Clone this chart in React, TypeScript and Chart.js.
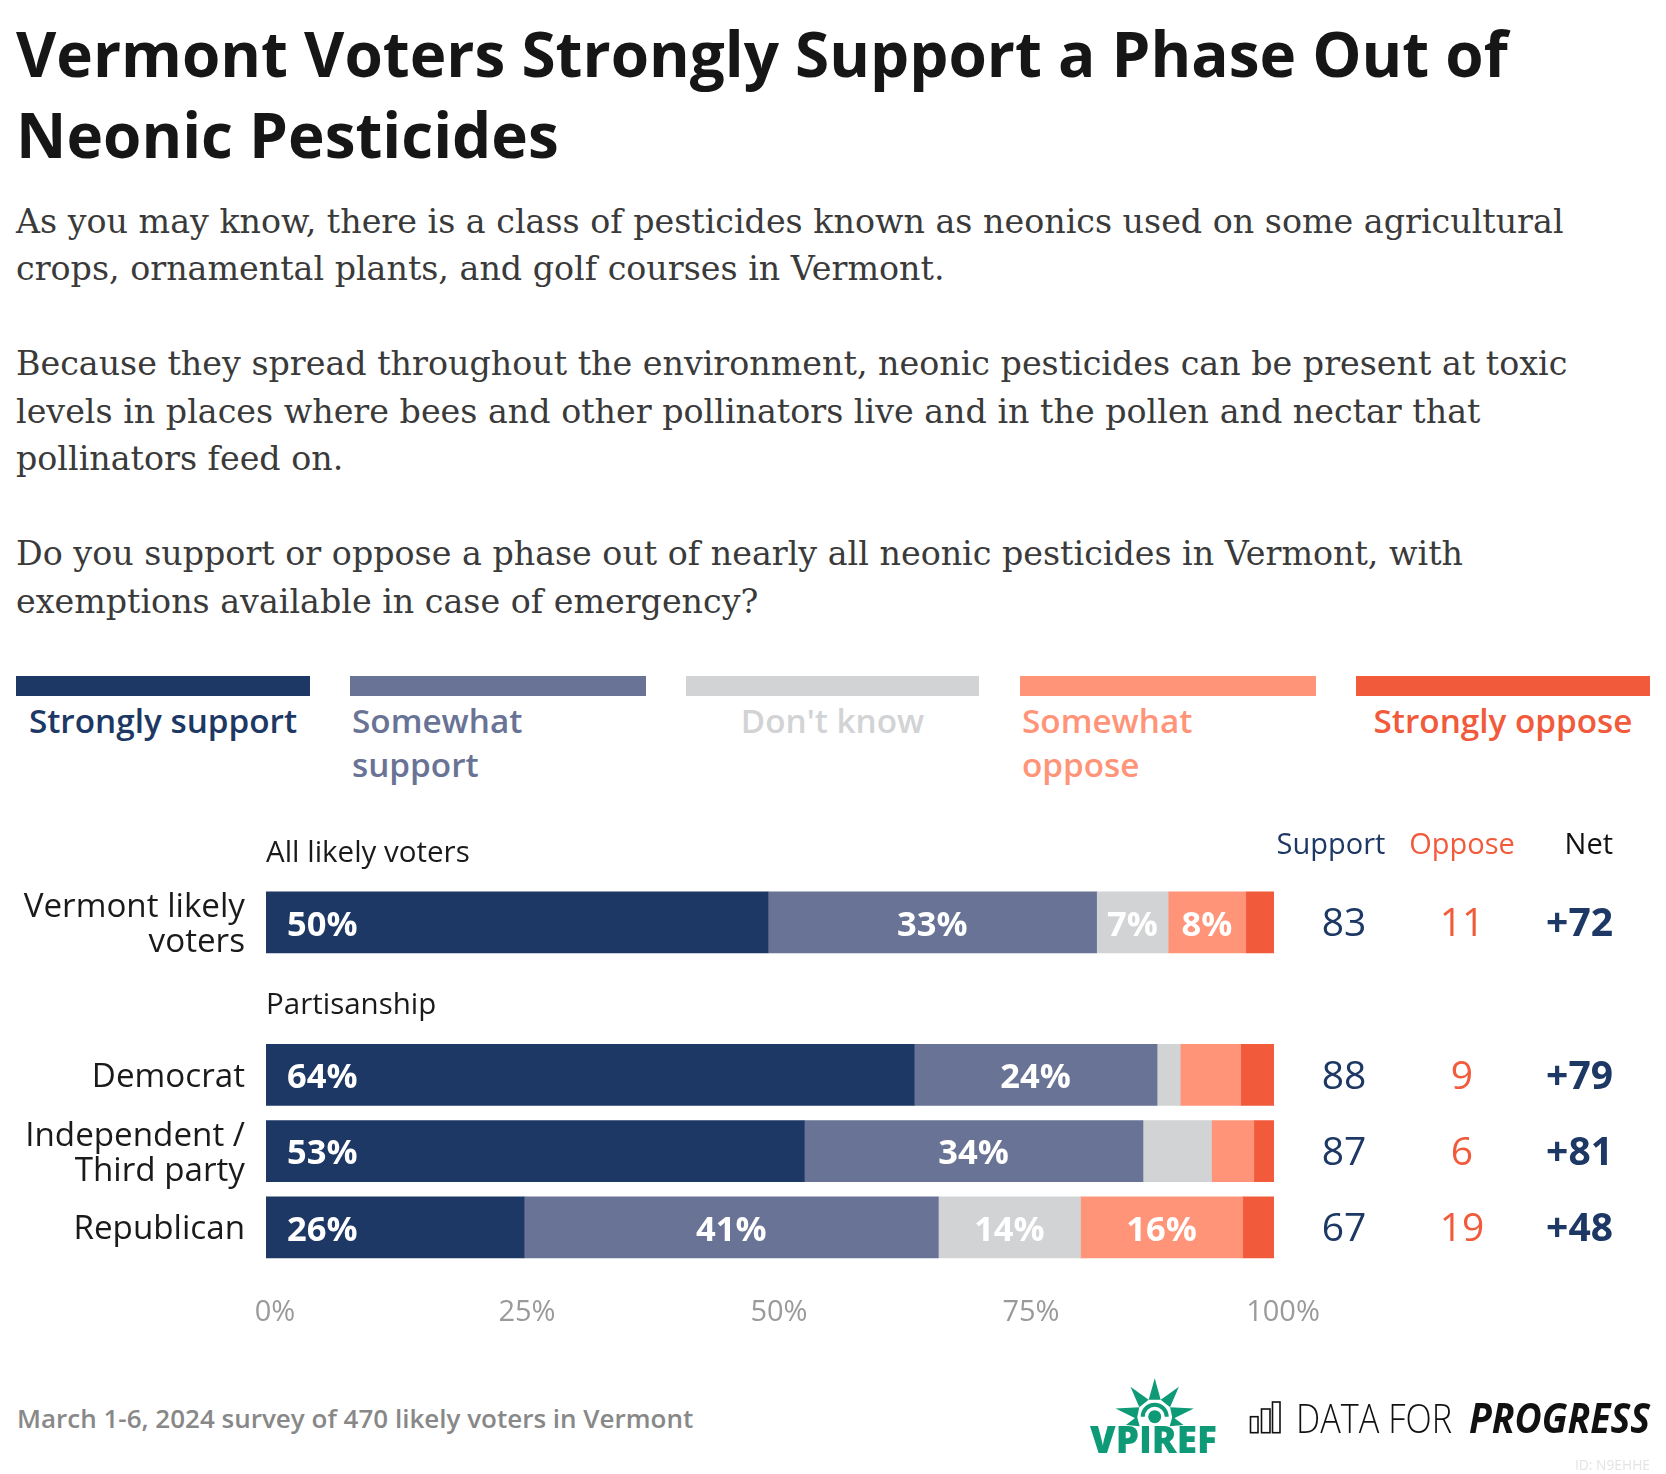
import React, { useEffect, useRef } from "react";
import { Chart, registerables } from "chart.js";

Chart.register(...registerables);

// ---------------- DATA ----------------
const titleLines = ["Vermont Voters Strongly Support a Phase Out of", "Neonic Pesticides"];
const subtitleLines = [
  "As you may know, there is a class of pesticides known as neonics used on some agricultural",
  "crops, ornamental plants, and golf courses in Vermont.",
  "",
  "Because they spread throughout the environment, neonic pesticides can be present at toxic",
  "levels in places where bees and other pollinators live and in the pollen and nectar that",
  "pollinators feed on.",
  "",
  "Do you support or oppose a phase out of nearly all neonic pesticides in Vermont, with",
  "exemptions available in case of emergency?",
];
const seriesNames = ["Strongly support", "Somewhat support", "Don't know", "Somewhat oppose", "Strongly oppose"];
const legendLines = [["Strongly support"], ["Somewhat", "support"], ["Don't know"], ["Somewhat", "oppose"], ["Strongly oppose"]];

const groupTitles = ["All likely voters", "Partisanship"];
const categories = [["Vermont likely", "voters"], ["Democrat"], ["Independent /", "Third party"], ["Republican"]];
const categoryGroup = [0, 1, 1, 1];

const stronglySupport = [49.8, 64.3, 53.4, 25.6];
const somewhatSupport = [32.6, 24.1, 33.6, 41.1];
const dontKnow = [7.1, 2.3, 6.8, 14.1];
const somewhatOppose = [7.7, 6.0, 4.2, 16.1];
const stronglyOppose = [2.8, 3.3, 2.0, 3.1];

const supportTotals = [83, 88, 87, 67];
const opposeTotals = [11, 9, 6, 19];
const netValues = [72, 79, 81, 48];
const columnHeaders = ["Support", "Oppose", "Net"];

const xTicks = [0, 25, 50, 75, 100];
const footnote = "March 1-6, 2024 survey of 470 likely voters in Vermont";

// ---------------- STYLE ----------------
const COLORS = ["#1d3864", "#697395", "#d2d3d5", "#ff9479", "#f15a3b"];
const SANS = '"Open Sans", "Noto Sans", sans-serif';
const SERIF = '"DejaVu Serif", serif';
const LABEL_MIN = 7;

// build the chart rows: a spacer row between groups
const rowOfCategory: number[] = [];
const chartLabels: string[] = [];
categories.forEach((c, i) => {
  if (i > 0 && categoryGroup[i] !== categoryGroup[i - 1]) chartLabels.push("");
  rowOfCategory.push(chartLabels.length);
  chartLabels.push(c.join(" "));
});
const seriesValues = [stronglySupport, somewhatSupport, dontKnow, somewhatOppose, stronglyOppose];
const toRows = (arr: number[]) => {
  const out: (number | null)[] = chartLabels.map(() => null);
  arr.forEach((v, i) => (out[rowOfCategory[i]] = v));
  return out;
};

const CANVAS_TOP = 780;

const overlayPlugin = {
  id: "overlay",
  afterDatasetsDraw(chart: any) {
    const ctx = chart.ctx as CanvasRenderingContext2D;
    const yScale = chart.scales.y;
    const area = chart.chartArea;
    ctx.save();
    ctx.textBaseline = "alphabetic";

    // segment labels
    const segF = 34.5;
    chart.data.datasets.forEach((ds: any, di: number) => {
      const meta = chart.getDatasetMeta(di);
      meta.data.forEach((bar: any, j: number) => {
        const v = ds.data[j];
        if (v == null || v < LABEL_MIN) return;
        const p = bar.getProps(["x", "base", "y"], true);
        const txt = Math.round(v) + "%";
        ctx.font = `700 ${segF}px ${SANS}`;
        ctx.fillStyle = "#ffffff";
        const by = p.y + 1 + 0.357 * segF;
        if (di === 0) {
          ctx.textAlign = "left";
          ctx.fillText(txt, Math.min(p.base, p.x) + 21, by);
        } else {
          ctx.textAlign = "center";
          ctx.fillText(txt, (p.base + p.x) / 2, by);
        }
      });
    });

    // row labels
    const rowF = 33.2;
    ctx.fillStyle = "#1a1a1a";
    ctx.font = `400 ${rowF}px ${SANS}`;
    ctx.textAlign = "right";
    categories.forEach((lines, k) => {
      const cy = yScale.getPixelForValue(rowOfCategory[k]);
      lines.forEach((ln, li) => {
        const ly = cy + (li - (lines.length - 1) / 2) * 35;
        ctx.fillText(ln, area.left - 21, ly + 0.357 * rowF);
      });
    });

    // group titles
    const gF = 29.5;
    ctx.font = `400 ${gF}px ${SANS}`;
    ctx.textAlign = "left";
    groupTitles.forEach((t, g) => {
      const first = categoryGroup.indexOf(g);
      const cy = yScale.getPixelForValue(rowOfCategory[first]) - 71;
      ctx.fillText(t, area.left, cy + 0.357 * gF);
    });

    // column headers
    ctx.font = `400 29px ${SANS}`;
    const hy = yScale.getPixelForValue(rowOfCategory[0]) - 78.5 + 0.357 * 29;
    ctx.fillStyle = COLORS[0];
    ctx.textAlign = "center";
    ctx.fillText(columnHeaders[0], area.right + 57, hy);
    ctx.fillStyle = COLORS[4];
    ctx.fillText(columnHeaders[1], area.right + 188, hy);
    ctx.fillStyle = "#111111";
    ctx.textAlign = "right";
    ctx.fillText(columnHeaders[2], area.right + 339, hy);

    // column values
    categories.forEach((_, k) => {
      const cy = yScale.getPixelForValue(rowOfCategory[k]) + 0.357 * 39;
      ctx.font = `400 39px ${SANS}`;
      ctx.textAlign = "center";
      ctx.fillStyle = COLORS[0];
      ctx.fillText(String(supportTotals[k]), area.right + 70, cy);
      ctx.fillStyle = COLORS[4];
      ctx.fillText(String(opposeTotals[k]), area.right + 188, cy);
      ctx.font = `700 39px ${SANS}`;
      ctx.textAlign = "right";
      ctx.fillStyle = COLORS[0];
      const n = netValues[k];
      ctx.fillText((n > 0 ? "+" : "") + n, area.right + 339, cy);
    });
    ctx.restore();
  },
};

function Logos() {
  const C = { x: 1154.7, y: 1416.7 };
  const rays = [
    { a: -90, d: 38.5, w: 6 },
    { a: -129, d: 38.5, w: 6 },
    { a: -51, d: 38.5, w: 6 },
    { a: -168, d: 40, w: 6 },
    { a: -12, d: 40, w: 6 },
    { a: 164, d: 30, w: 5 },
    { a: 16, d: 30, w: 5 },
  ];
  const r0 = 17;
  const polys = rays.map((r) => {
    const t = (r.a * Math.PI) / 180;
    const cx = Math.cos(t), sy = Math.sin(t);
    const tip = [C.x + r.d * cx, C.y + r.d * sy];
    const b = [C.x + r0 * cx, C.y + r0 * sy];
    const p1 = [b[0] - r.w * sy, b[1] + r.w * cx];
    const p2 = [b[0] + r.w * sy, b[1] - r.w * cx];
    return `${tip[0]},${tip[1]} ${p1[0]},${p1[1]} ${p2[0]},${p2[1]}`;
  });
  const green = "#0e9a77";
  return (
    <svg
      style={{ position: "absolute", left: 0, top: 1370 }}
      width={1666}
      height={104}
      viewBox="0 1370 1666 104"
    >
      {polys.map((p, i) => (
        <polygon key={i} points={p} fill={green} />
      ))}
      <path d={`M ${C.x - 12} ${C.y} A 12 12 0 0 1 ${C.x + 12} ${C.y}`} stroke={green} strokeWidth={4} fill="none" />
      <circle cx={C.x} cy={C.y} r={6.5} fill={green} />
      <text x={1090} y={1453} fill={green} fontFamily={SANS} fontWeight={800} fontSize={37} textLength={127} lengthAdjust="spacingAndGlyphs">
        VPIREF
      </text>
      <rect x={1250.5} y={1416.7} width={7.5} height={16} fill="none" stroke="#111" strokeWidth={1.6} />
      <rect x={1261.5} y={1409} width={8.5} height={23.7} fill="none" stroke="#111" strokeWidth={1.6} />
      <rect x={1272.5} y={1402} width={7.5} height={30.7} fill="none" stroke="#111" strokeWidth={1.6} />
      <text x={1296} y={1433} fill="#111" fontFamily={SANS} fontWeight={300} fontSize={41} textLength={156} lengthAdjust="spacingAndGlyphs">
        DATA FOR
      </text>
      <text x={1469} y={1433} fill="#111" fontFamily={SANS} fontWeight={700} fontStyle="italic" fontSize={41} textLength={181} lengthAdjust="spacingAndGlyphs">
        PROGRESS
      </text>
      <text x={1575} y={1470} fill="#e4e4e4" fontFamily={SANS} fontSize={15} textLength={75} lengthAdjust="spacingAndGlyphs">
        ID: N9EHHE
      </text>
    </svg>
  );
}

export default function App() {
  const ref = useRef<HTMLCanvasElement | null>(null);

  useEffect(() => {
    if (!ref.current) return;
    const chart = new Chart(ref.current, {
      type: "bar",
      data: {
        labels: chartLabels,
        datasets: seriesNames.map((name, i) => ({
          label: name,
          data: toRows(seriesValues[i]),
          backgroundColor: COLORS[i],
          borderWidth: 0,
          barThickness: 61,
        })),
      },
      options: {
        indexAxis: "y",
        responsive: false,
        maintainAspectRatio: false,
        animation: false,
        layout: { padding: { left: 266, right: 392, top: 104.25, bottom: 19.65 } },
        plugins: { legend: { display: false }, tooltip: { enabled: false } },
        scales: {
          x: {
            stacked: true,
            min: 0,
            max: 100,
            grid: { display: false, drawTicks: false },
            border: { display: false },
            afterBuildTicks: (scale: any) => {
              scale.ticks = xTicks.map((v) => ({ value: v }));
            },
            ticks: {
              padding: 30,
              labelOffset: 9,
              color: "#9a9a9a",
              font: { family: SANS, size: 29 },
              callback: (v: any) => v + "%",
            },
          },
          y: { stacked: true, display: false },
        },
      } as any,
      plugins: [overlayPlugin],
    });
    let alive = true;
    (document as any).fonts?.ready?.then(() => {
      if (alive) chart.update();
    });
    return () => {
      alive = false;
      chart.destroy();
    };
  }, []);

  const swatchLeft = [16, 350, 686, 1020, 1356];
  const swatchW = [294, 296, 293, 296, 294];

  return (
    <div
      style={{
        position: "absolute",
        left: 0,
        top: 0,
        width: 1666,
        height: 1474,
        background: "#ffffff",
        overflow: "hidden",
        fontFamily: SANS,
      }}
    >
      <div
        style={{
          position: "absolute",
          left: 16,
          top: 13.4,
          fontSize: 62,
          lineHeight: "81px",
          fontWeight: 700,
          color: "#161616",
          whiteSpace: "nowrap",
        }}
      >
        {titleLines.map((l, i) => (
          <div key={i}>{l}</div>
        ))}
      </div>

      <div
        style={{
          position: "absolute",
          left: 16,
          top: 197.7,
          fontFamily: SERIF,
          fontSize: 33.3,
          lineHeight: "47.5px",
          color: "#3a3a3a",
          whiteSpace: "nowrap",
        }}
      >
        {subtitleLines.map((l, i) => (
          <div key={i} style={{ height: 47.5 }}>
            {l}
          </div>
        ))}
      </div>

      {seriesNames.map((name, i) => (
        <React.Fragment key={name}>
          <div
            style={{
              position: "absolute",
              left: swatchLeft[i],
              top: 676,
              width: swatchW[i],
              height: 20,
              background: COLORS[i],
            }}
          />
          <div
            style={{
              position: "absolute",
              left: swatchLeft[i] + (legendLines[i].length > 1 ? 2 : 0),
              top: 698.1,
              width: swatchW[i],
              textAlign: legendLines[i].length > 1 ? "left" : "center",
              fontSize: 33.3,
              lineHeight: "44px",
              fontWeight: 600,
              color: COLORS[i],
              whiteSpace: "nowrap",
            }}
          >
            {legendLines[i].map((l, k) => (
              <div key={k}>{l}</div>
            ))}
          </div>
        </React.Fragment>
      ))}

      <canvas
        ref={ref}
        width={1666}
        height={600}
        style={{ position: "absolute", left: 0, top: CANVAS_TOP, width: 1666, height: 600 }}
      />

      <div
        style={{
          position: "absolute",
          left: 17,
          top: 1402.9,
          fontSize: 26,
          lineHeight: "30px",
          fontWeight: 600,
          color: "#888888",
          whiteSpace: "nowrap",
        }}
      >
        {footnote}
      </div>

      <Logos />
    </div>
  );
}
